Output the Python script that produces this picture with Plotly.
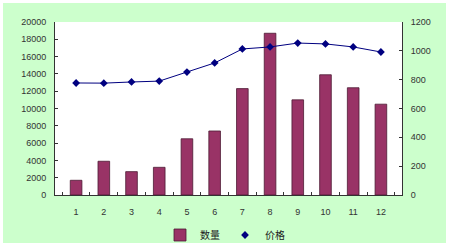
import plotly.graph_objects as go

months = ["1", "2", "3", "4", "5", "6", "7", "8", "9", "10", "11", "12"]
quantity = [1700, 3900, 2700, 3200, 6500, 7400, 12300, 18700, 11000, 13900, 12400, 10500]
price = [777, 776, 784, 790, 853, 916, 1013, 1027, 1054, 1048, 1027, 992]
left_ticks = [0, 2000, 4000, 6000, 8000, 10000, 12000, 14000, 16000, 18000, 20000]
right_ticks = [0, 200, 400, 600, 800, 1000, 1200]

font = dict(family="Liberation Sans, Noto Sans CJK SC", size=9, color="#333333")

fig = go.Figure()
fig.add_trace(go.Bar(
    x=months, y=quantity, name="数量",
    marker=dict(color="#993366", line=dict(color="#4d1a33", width=0.8)),
))
fig.add_trace(go.Scatter(
    x=months, y=price, name="价格", yaxis="y2", mode="lines",
    line=dict(color="#000080", width=1), showlegend=False, hoverinfo="skip",
))
fig.add_trace(go.Scatter(
    x=months, y=price, name="价格", yaxis="y2", mode="markers",
    marker=dict(symbol="diamond", size=6, color="#000080"),
))

L, R, T, B = 55, 48, 22, 55
W, H = 450, 250
pw, ph = W - L - R, H - T - B

def px2x(px):
    return (px - L) / pw

def px2y(py):
    return (H - B - py) / ph

fig.update_layout(
    width=W, height=H,
    margin=dict(l=L, r=R, t=T, b=B),
    paper_bgcolor="white",
    plot_bgcolor="white",
    font=font,
    bargap=0.58,
    showlegend=True,
    legend=dict(orientation="h", x=0.5, xanchor="center", xref="container",
                y=1 - 235 / H, yanchor="middle", yref="container",
                font=dict(family="Noto Sans CJK SC", size=10, color="#222222"),
                bgcolor="rgba(0,0,0,0)", itemwidth=30),
    xaxis=dict(type="category", showline=True, linecolor="#333333", linewidth=1,
               ticks="inside", tickson="boundaries", ticklen=3, tickcolor="#333333",
               ticklabelstandoff=8, showgrid=False, zeroline=False, automargin=False),
    yaxis=dict(range=[0, 20000], tickvals=left_ticks, ticktext=[str(v) for v in left_ticks],
               showline=True, linecolor="#333333",
               linewidth=1, ticks="inside", ticklen=3, tickcolor="#333333",
               showgrid=False, zeroline=False, ticklabelstandoff=6, automargin=False),
    yaxis2=dict(range=[0, 1200], tickvals=right_ticks, ticktext=[str(v) for v in right_ticks],
                overlaying="y", side="right",
                showline=True, linecolor="#333333", linewidth=1, ticks="inside", ticklen=3,
                tickcolor="#333333", showgrid=False, zeroline=False, ticklabelstandoff=6,
                automargin=False),
    shapes=[
        dict(type="rect", xref="paper", yref="paper", layer="below",
             x0=px2x(3), x1=px2x(446), y0=px2y(243), y1=px2y(3),
             fillcolor="#ccffcc", line=dict(width=0)),
        dict(type="rect", xref="paper", yref="paper", layer="below",
             x0=0, x1=1, y0=0, y1=1, fillcolor="white", line=dict(width=0)),
    ],
)

fig.write_html("out.html")
